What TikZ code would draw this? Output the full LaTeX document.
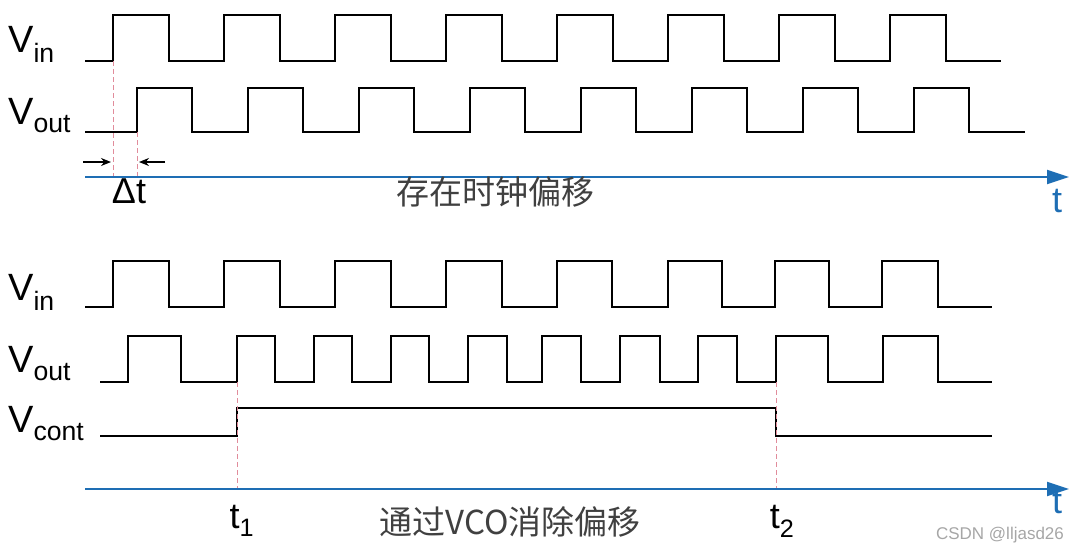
\documentclass[tikz,border=0pt]{standalone}
\usepackage{fontspec}
\setmainfont{Liberation Sans}
\newfontfamily\cjkf{Noto Sans CJK SC}
\usetikzlibrary{arrows.meta}
\definecolor{axblue}{RGB}{30,110,180}
\definecolor{dpink}{RGB}{225,140,155}
\begin{document}
\begin{tikzpicture}[x=1pt,y=-1pt,
  wave/.style={line width=1.8pt,black,line join=miter},
  axis/.style={line width=2.2pt,axblue,-{Triangle[length=22pt,width=14pt]}},
  pinkdash/.style={dpink,line width=0.9pt,dash pattern=on 5pt off 3pt},
  small arrow/.style={-{Stealth[length=10pt,width=8pt]},line width=1.4pt},
  lbl/.style={anchor=base west,inner sep=0pt,font=\fontsize{38}{40}\selectfont},
  tl/.style={inner sep=0pt,font=\fontsize{36}{38}\selectfont},
  cn/.style={inner sep=0pt,font=\cjkf\fontsize{33}{35}\selectfont,text=black!75}]
\useasboundingbox (0,0) rectangle (1079,547);
% labels
\node[lbl] (l1) at (8,52) {V\textsubscript{in}};
\node[lbl] (l2) at (8,124) {V\textsubscript{out}};
\node[lbl] (l3) at (8,300) {V\textsubscript{in}};
\node[lbl] (l4) at (8,372) {V\textsubscript{out}};
\node[lbl] (l5) at (8,432) {V\textsubscript{cont}};
% top Vin
\draw[wave] (85,61) -- (113,61)
 \foreach \r in {113,224,335,446,557,668,779,890}{ -- (\r,61) -- (\r,15) -- (\r+56,15) -- (\r+56,61)} -- (1001,61);
% top Vout
\draw[wave] (85,132) -- (137,132)
 \foreach \r in {137,248,359,470,581,692,803,914}{ -- (\r,132) -- (\r,88) -- (\r+55,88) -- (\r+55,132)} -- (1025,132);
\draw[pinkdash] (113,61) -- (113,177);
\draw[pinkdash] (137,132) -- (137,177);
\coordinate (a1) at (83,162); \coordinate (a2) at (111,162);
\coordinate (a3) at (165,162); \coordinate (a4) at (139,162);
\draw[small arrow] (a1) -- (a2);
\draw[small arrow] (a3) -- (a4);
\coordinate (ax1s) at (85,177); \coordinate (ax1e) at (1069,177);
\draw[axis] (ax1s) -- (ax1e);
\node[tl,anchor=base] (dt) at (129,203) {Δt};
\node[cn] (c1) at (495,192) {存在时钟偏移};
\node[tl,text=axblue,anchor=base] (t1ax) at (1057,212) {t};
% bottom Vin
\draw[wave] (85,307) -- (113,307)
 \foreach \r/\f in {113/169,224/280,335/391,446/502,557/612,668/722,775/829,882/938}{ -- (\r,307) -- (\r,261) -- (\f,261) -- (\f,307)} -- (992,307);
% bottom Vout
\draw[wave] (100,382) -- (128,382)
 \foreach \r/\f in {128/181,237/275,314/352,391/429,468/507,542/581,620/660,698/737,776/828,883/938}{ -- (\r,382) -- (\r,336) -- (\f,336) -- (\f,382)} -- (992,382);
% Vcont
\draw[wave] (100,436) -- (237,436) -- (237,408) -- (776,408) -- (776,436) -- (992,436);
\draw[pinkdash] (237,382) -- (237,489);
\draw[pinkdash] (776,382) -- (776,489);
\coordinate (ax2s) at (85,489); \coordinate (ax2e) at (1069,489);
\draw[axis] (ax2s) -- (ax2e);
\node[tl,anchor=base] (t1) at (242,528) {t\textsubscript{1}};
\node[tl,anchor=base] (t2) at (782,528) {t\textsubscript{2}};
\node[cn] (c2) at (510,522) {通过VCO消除偏移};
\node[tl,text=axblue,anchor=base] (t2ax) at (1057,513) {t};
\node[inner sep=0pt,text=black!35,font=\fontsize{17}{18}\selectfont] (wm) at (1000,535) {CSDN @lljasd26};
\end{tikzpicture}
\end{document}
